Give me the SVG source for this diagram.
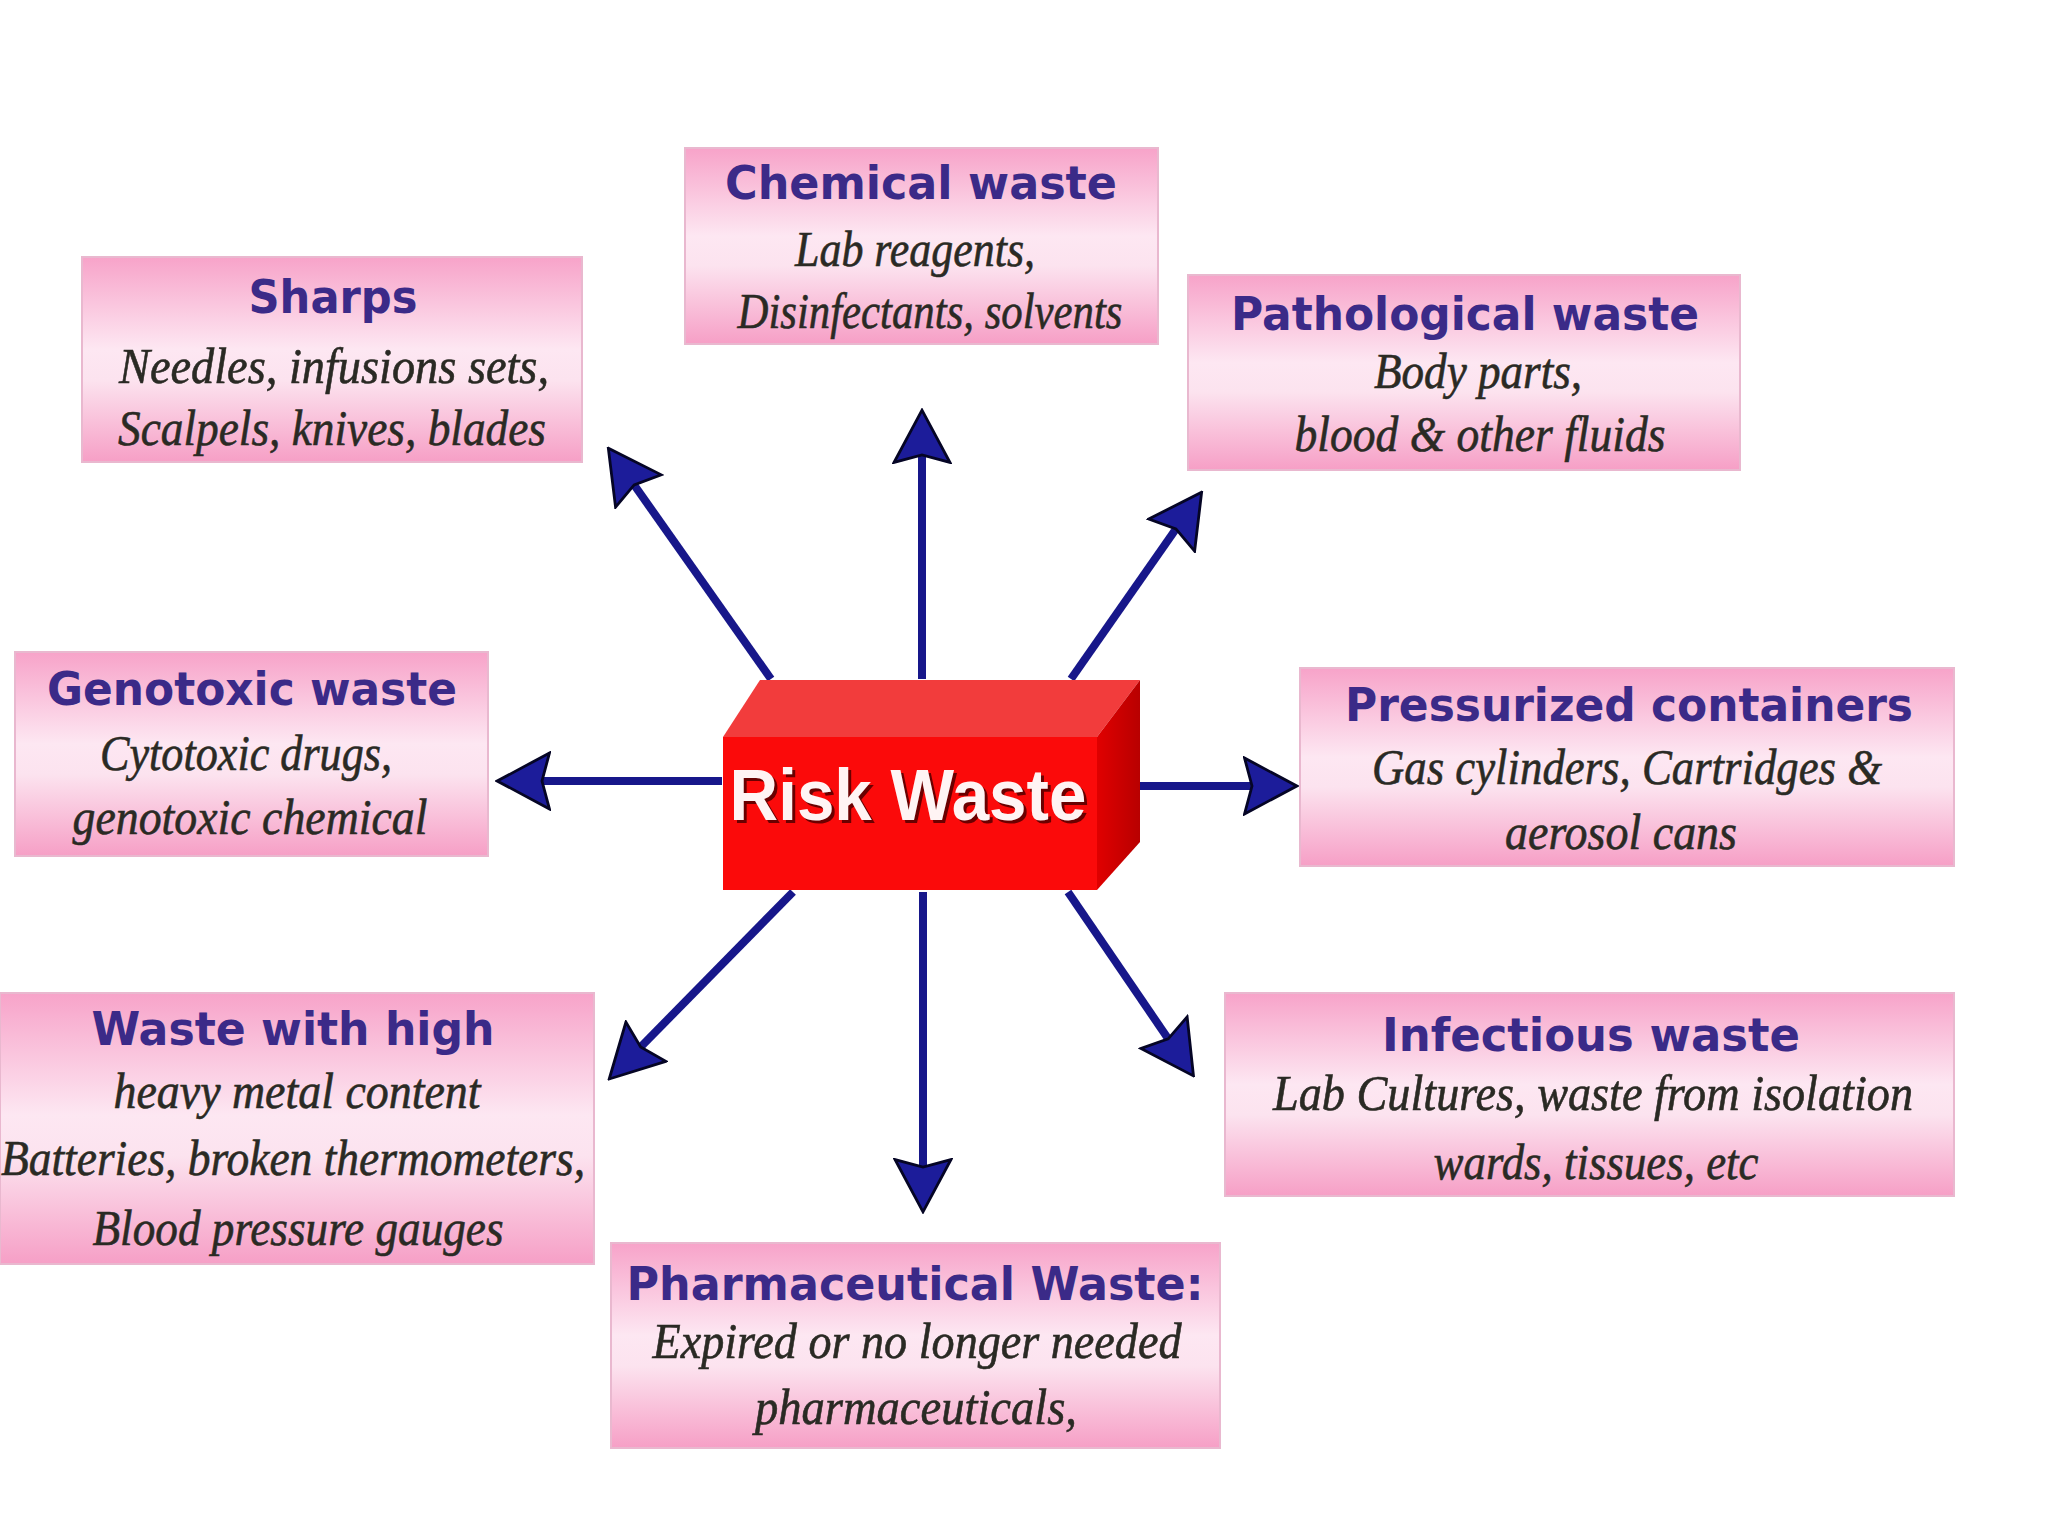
<svg xmlns="http://www.w3.org/2000/svg" width="2048" height="1536" viewBox="0 0 2048 1536">
  <defs>
    <linearGradient id="pink" x1="0" y1="0" x2="0" y2="1">
      <stop offset="0" stop-color="#f7a3c9"/>
      <stop offset="0.45" stop-color="#fde7f2"/>
      <stop offset="0.6" stop-color="#fce3ef"/>
      <stop offset="1" stop-color="#f69fc6"/>
    </linearGradient>
    <linearGradient id="sideRed" x1="0" y1="0" x2="1" y2="0">
      <stop offset="0" stop-color="#e00000"/>
      <stop offset="1" stop-color="#b80000"/>
    </linearGradient>
    <marker id="head" viewBox="0 0 60 64" refX="40" refY="32" markerWidth="56" markerHeight="60" markerUnits="userSpaceOnUse" orient="auto">
      <path d="M2,2 L58,32 L2,62 L10,32 Z" fill="#1c1c9a" stroke="#050525" stroke-width="3" stroke-linejoin="miter"/>
    </marker>
    <style>
      .box { fill: url(#pink); stroke: #e9b8cf; stroke-width: 2; }
      .t { font-family: "DejaVu Sans", "Liberation Sans", sans-serif; font-weight: bold; font-size: 46px; fill: #3b2a88; text-anchor: middle; }
      .s { font-family: "Liberation Serif", "DejaVu Serif", serif; font-style: italic; font-size: 50px; fill: #2a2a24; text-anchor: middle; stroke: #2a2a24; stroke-width: 0.6; }
      .conn line { stroke: #17178a; stroke-width: 8; marker-end: url(#head); }
    </style>
  </defs>

  <rect width="2048" height="1536" fill="#ffffff"/>

  <g id="connectors" class="conn">
    <line x1="771" y1="679" x2="618" y2="462"/>
    <line x1="922" y1="679" x2="922" y2="427"/>
    <line x1="1071" y1="679" x2="1192" y2="506"/>
    <line x1="722" y1="781" x2="514" y2="781"/>
    <line x1="1136" y1="786" x2="1280" y2="786"/>
    <line x1="793" y1="892" x2="621" y2="1067"/>
    <line x1="923" y1="892" x2="923" y2="1195"/>
    <line x1="1068" y1="892" x2="1184" y2="1062"/>
  </g>

  <g id="risk-waste">
    <polygon points="723,737 760,680 1140,680 1097,737" fill="#f23c3c"/>
    <polygon points="1097,737 1140,680 1140,842 1097,890" fill="url(#sideRed)"/>
    <rect x="723" y="737" width="374" height="153" fill="#fb0a0a"/>
    <text x="911" y="823" font-family="Liberation Sans, Arial, sans-serif" font-weight="bold" font-size="72" fill="#6a0000" text-anchor="middle" textLength="357" lengthAdjust="spacingAndGlyphs">Risk Waste</text>
    <text x="908" y="820" font-family="Liberation Sans, Arial, sans-serif" font-weight="bold" font-size="72" fill="#fff4f4" text-anchor="middle" textLength="357" lengthAdjust="spacingAndGlyphs">Risk Waste</text>
  </g>

  <g id="chemical-waste">
    <rect class="box" x="685" y="148" width="473" height="196"/>
    <text class="t" x="921" y="199" textLength="392" lengthAdjust="spacingAndGlyphs">Chemical waste</text>
    <text class="s" x="915" y="266" textLength="240" lengthAdjust="spacingAndGlyphs">Lab reagents,</text>
    <text class="s" x="930" y="328" textLength="385" lengthAdjust="spacingAndGlyphs">Disinfectants, solvents</text>
  </g>

  <g id="sharps">
    <rect class="box" x="82" y="257" width="500" height="205"/>
    <text class="t" x="333" y="313" textLength="169" lengthAdjust="spacingAndGlyphs">Sharps</text>
    <text class="s" x="334" y="383" textLength="430" lengthAdjust="spacingAndGlyphs">Needles, infusions sets,</text>
    <text class="s" x="332" y="445" textLength="428" lengthAdjust="spacingAndGlyphs">Scalpels, knives, blades</text>
  </g>

  <g id="pathological-waste">
    <rect class="box" x="1188" y="275" width="552" height="195"/>
    <text class="t" x="1465" y="330" textLength="468" lengthAdjust="spacingAndGlyphs">Pathological waste</text>
    <text class="s" x="1478" y="388" textLength="208" lengthAdjust="spacingAndGlyphs">Body parts,</text>
    <text class="s" x="1480" y="451" textLength="371" lengthAdjust="spacingAndGlyphs">blood &amp; other fluids</text>
  </g>

  <g id="genotoxic-waste">
    <rect class="box" x="15" y="652" width="473" height="204"/>
    <text class="t" x="252" y="705" textLength="410" lengthAdjust="spacingAndGlyphs">Genotoxic waste</text>
    <text class="s" x="246" y="770" textLength="292" lengthAdjust="spacingAndGlyphs">Cytotoxic drugs,</text>
    <text class="s" x="250" y="834" textLength="355" lengthAdjust="spacingAndGlyphs">genotoxic chemical</text>
  </g>

  <g id="pressurized-containers">
    <rect class="box" x="1300" y="668" width="654" height="198"/>
    <text class="t" x="1629" y="721" textLength="568" lengthAdjust="spacingAndGlyphs">Pressurized containers</text>
    <text class="s" x="1627" y="784" textLength="510" lengthAdjust="spacingAndGlyphs">Gas cylinders, Cartridges &amp;</text>
    <text class="s" x="1621" y="849" textLength="232" lengthAdjust="spacingAndGlyphs">aerosol cans</text>
  </g>

  <g id="heavy-metal-waste">
    <rect class="box" x="0" y="993" width="594" height="271"/>
    <text class="t" x="293" y="1045" textLength="403" lengthAdjust="spacingAndGlyphs">Waste with high</text>
    <text class="s" x="297" y="1108" textLength="367" lengthAdjust="spacingAndGlyphs">heavy metal content</text>
    <text class="s" x="293" y="1175" textLength="584" lengthAdjust="spacingAndGlyphs">Batteries, broken thermometers,</text>
    <text class="s" x="298" y="1245" textLength="411" lengthAdjust="spacingAndGlyphs">Blood pressure gauges</text>
  </g>

  <g id="infectious-waste">
    <rect class="box" x="1225" y="993" width="729" height="203"/>
    <text class="t" x="1591" y="1051" textLength="418" lengthAdjust="spacingAndGlyphs">Infectious waste</text>
    <text class="s" x="1593" y="1110" textLength="640" lengthAdjust="spacingAndGlyphs">Lab Cultures, waste from isolation</text>
    <text class="s" x="1596" y="1179" textLength="325" lengthAdjust="spacingAndGlyphs">wards, tissues, etc</text>
  </g>

  <g id="pharmaceutical-waste">
    <rect class="box" x="611" y="1243" width="609" height="205"/>
    <text class="t" x="915" y="1300" textLength="577" lengthAdjust="spacingAndGlyphs">Pharmaceutical Waste:</text>
    <text class="s" x="917" y="1358" textLength="529" lengthAdjust="spacingAndGlyphs">Expired or no longer needed</text>
    <text class="s" x="916" y="1424" textLength="322" lengthAdjust="spacingAndGlyphs">pharmaceuticals,</text>
  </g>
</svg>
